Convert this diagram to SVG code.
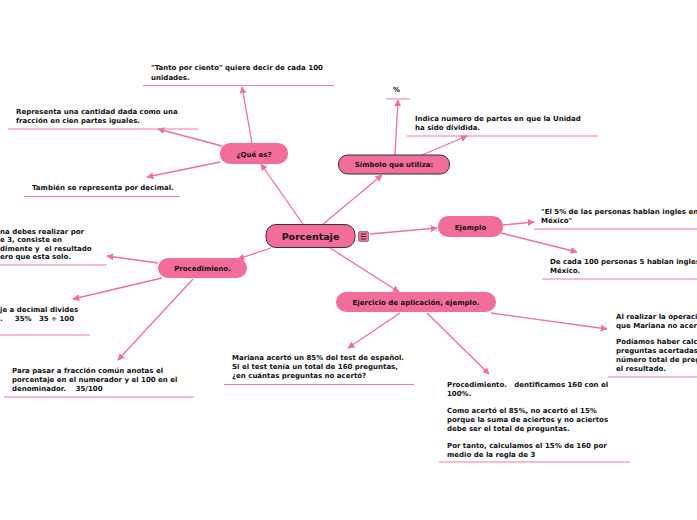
<svg xmlns="http://www.w3.org/2000/svg" width="697" height="520" viewBox="0 0 697 520">
<defs>
<marker id="ah" viewBox="0 0 10 10" refX="9" refY="5" markerWidth="7" markerHeight="7" markerUnits="userSpaceOnUse" orient="auto">
<path d="M0,0 L10,5 L0,10 z" fill="#f0709c"/>
</marker>
<style>
.t{font-family:"DejaVu Sans",Verdana,sans-serif;font-size:7px;font-weight:bold;fill:#111;white-space:pre}
.nl{font-family:"DejaVu Sans",Verdana,sans-serif;font-size:7px;font-weight:bold;fill:#111;text-anchor:middle}
.n{fill:#f26d9a}
.nb{fill:#f26d9a;stroke:#333;stroke-width:1}
.c{stroke:#f0709c;stroke-width:1.3;fill:none}
.ca{stroke:#f0709c;stroke-width:1.3;fill:none;marker-end:url(#ah)}
.u{stroke:#f07aa4;stroke-width:1;fill:none}
</style>
</defs>
<rect width="697" height="520" fill="#fff"/>
<g id="connectors">
<line class="ca" x1="252" y1="143" x2="242" y2="87"/>
<line class="ca" x1="222" y1="146" x2="158" y2="129"/>
<line class="ca" x1="220" y1="162" x2="147" y2="177"/>
<line class="ca" x1="395" y1="155" x2="398" y2="100"/>
<line class="ca" x1="422" y1="155" x2="467" y2="136"/>
<line class="ca" x1="322" y1="225" x2="382" y2="175"/>
<line class="ca" x1="303" y1="224" x2="261" y2="164"/>
<line class="ca" x1="271" y1="248" x2="238" y2="259"/>
<line class="ca" x1="370" y1="234" x2="437" y2="228"/>
<line class="ca" x1="330" y1="248" x2="399" y2="292"/>
<line class="ca" x1="503" y1="225" x2="534" y2="222"/>
<line class="ca" x1="501" y1="233" x2="577" y2="252"/>
<line class="ca" x1="158" y1="263" x2="107" y2="256"/>
<line class="ca" x1="162" y1="278" x2="73" y2="299"/>
<line class="ca" x1="193" y1="279" x2="118" y2="360"/>
<line class="ca" x1="400" y1="313" x2="348" y2="348"/>
<line class="ca" x1="427" y1="313" x2="489" y2="374"/>
<line class="ca" x1="491" y1="313" x2="607" y2="329"/>
</g>
<g id="porcentaje">
<rect class="nb" x="266" y="224.5" width="89" height="23" rx="10"/>
<text x="310.5" y="239.5" style="font-family:'DejaVu Sans',Verdana,sans-serif;font-size:9.5px;font-weight:bold;fill:#111;text-anchor:middle">Porcentaje</text>
<rect x="358.5" y="231.5" width="10" height="10" rx="1.5" fill="#f26d9a" stroke="#555" stroke-width="0.6"/>
<line x1="361" y1="234" x2="366" y2="234" stroke="#222" stroke-width="0.9"/>
<line x1="361" y1="236.5" x2="366" y2="236.5" stroke="#222" stroke-width="0.9"/>
<line x1="361" y1="239" x2="366" y2="239" stroke="#222" stroke-width="0.9"/>
</g>
<g id="que-es">
<rect class="n" x="220" y="143" width="68" height="21" rx="10"/>
<text class="nl" x="254" y="156.5">¿Qué es?</text>
</g>
<g id="tanto">
<text class="t" x="151" y="70">"Tanto por ciento" quiere decir de cada 100</text>
<text class="t" x="151" y="79.5">unidades.</text>
<line class="u" x1="143" y1="85.5" x2="334" y2="85.5"/>
</g>
<g id="representa">
<text class="t" x="16" y="113.5">Representa una cantidad dada como una</text>
<text class="t" x="16" y="122.5">fracción en cien partes iguales.</text>
<line class="u" x1="8" y1="129" x2="198" y2="129"/>
</g>
<g id="tambien">
<text class="t" x="32" y="190">También se representa por decimal.</text>
<line class="u" x1="24" y1="196.5" x2="180" y2="196.5"/>
</g>
<g id="simbolo">
<rect class="nb" x="338.5" y="155" width="111" height="19" rx="9"/>
<text class="nl" x="394" y="167">Símbolo que utiliza:</text>
</g>
<g id="pct">
<text class="t" x="393" y="92">%</text>
<line class="u" x1="386" y1="99" x2="410" y2="99"/>
</g>
<g id="indica">
<text class="t" x="415" y="121">Indica numero de partes en que la Unidad</text>
<text class="t" x="415" y="130">ha sido dividida.</text>
<line class="u" x1="407" y1="136" x2="598" y2="136"/>
</g>
<g id="ejemplo">
<rect class="n" x="438" y="216" width="65" height="21" rx="10"/>
<text class="nl" x="470.5" y="229.5">Ejemplo</text>
</g>
<g id="el5">
<text class="t" x="541" y="213.5">"El 5% de las personas hablan ingles en</text>
<text class="t" x="541" y="222.5">México"</text>
<line class="u" x1="534" y1="229" x2="697" y2="229"/>
</g>
<g id="decada">
<text class="t" x="550" y="263.5">De cada 100 personas 5 hablan ingles</text>
<text class="t" x="550" y="272.5">México.</text>
<line class="u" x1="542" y1="279" x2="697" y2="279"/>
</g>
<g id="procedimieno">
<rect class="n" x="158" y="258" width="89" height="20" rx="10"/>
<text class="nl" x="202.5" y="271">Procedimieno.</text>
</g>
<g id="regla3">
<text class="t" x="0" y="233.5">na debes realizar por</text>
<text class="t" x="0" y="242">e 3, consiste en</text>
<text class="t" x="0" y="250.5">dimente y  el resultado</text>
<text class="t" x="0" y="259">ero que esta solo.</text>
<line class="u" x1="0" y1="265" x2="107" y2="265"/>
</g>
<g id="decimal">
<text class="t" x="0" y="312">je a decimal divides</text>
<text class="t" x="0" y="320.5">.     35%   35 ÷ 100</text>
<line class="u" x1="0" y1="335" x2="90" y2="335"/>
</g>
<g id="fraccion">
<text class="t" x="12" y="372.5">Para pasar a fracción común anotas el</text>
<text class="t" x="12" y="382">porcentaje en el numerador y el 100 en el</text>
<text class="t" x="12" y="391">denominador.    35/100</text>
<line class="u" x1="4" y1="397" x2="194" y2="397"/>
</g>
<g id="ejercicio">
<rect class="n" x="336" y="292" width="160" height="20" rx="10"/>
<text class="nl" x="416" y="304.5">Ejercicio de aplicación, ejemplo.</text>
</g>
<g id="mariana">
<text class="t" x="232" y="360">Mariana acertó un 85% del test de español.</text>
<text class="t" x="232" y="369">Si el test tenía un total de 160 preguntas,</text>
<text class="t" x="232" y="378">¿en cuántas preguntas no acertó?</text>
<line class="u" x1="224" y1="384.5" x2="414" y2="384.5"/>
</g>
<g id="procedimiento">
<text class="t" x="447" y="386.5">Procedimiento.   dentificamos 160 con el</text>
<text class="t" x="447" y="395.5">100%.</text>
<text class="t" x="447" y="412.5">Como acertó el 85%, no acertó el 15%</text>
<text class="t" x="447" y="421.5">porque la suma de aciertos y no aciertos</text>
<text class="t" x="447" y="430.5">debe ser el total de preguntas.</text>
<text class="t" x="447" y="447.5">Por tanto, calculamos el 15% de 160 por</text>
<text class="t" x="447" y="456.5">medio de la regla de 3</text>
<line class="u" x1="439" y1="462" x2="630" y2="462"/>
</g>
<g id="alrealizar">
<text class="t" x="616" y="318.5">Al realizar la operación</text>
<text class="t" x="616" y="327.5">que Mariana no acertó</text>
<text class="t" x="616" y="344">Podíamos haber calcular</text>
<text class="t" x="616" y="353">preguntas acertadas</text>
<text class="t" x="616" y="362">número total de preguntas</text>
<text class="t" x="616" y="371">el resultado.</text>
<line class="u" x1="608" y1="377" x2="697" y2="377"/>
</g>
</svg>
